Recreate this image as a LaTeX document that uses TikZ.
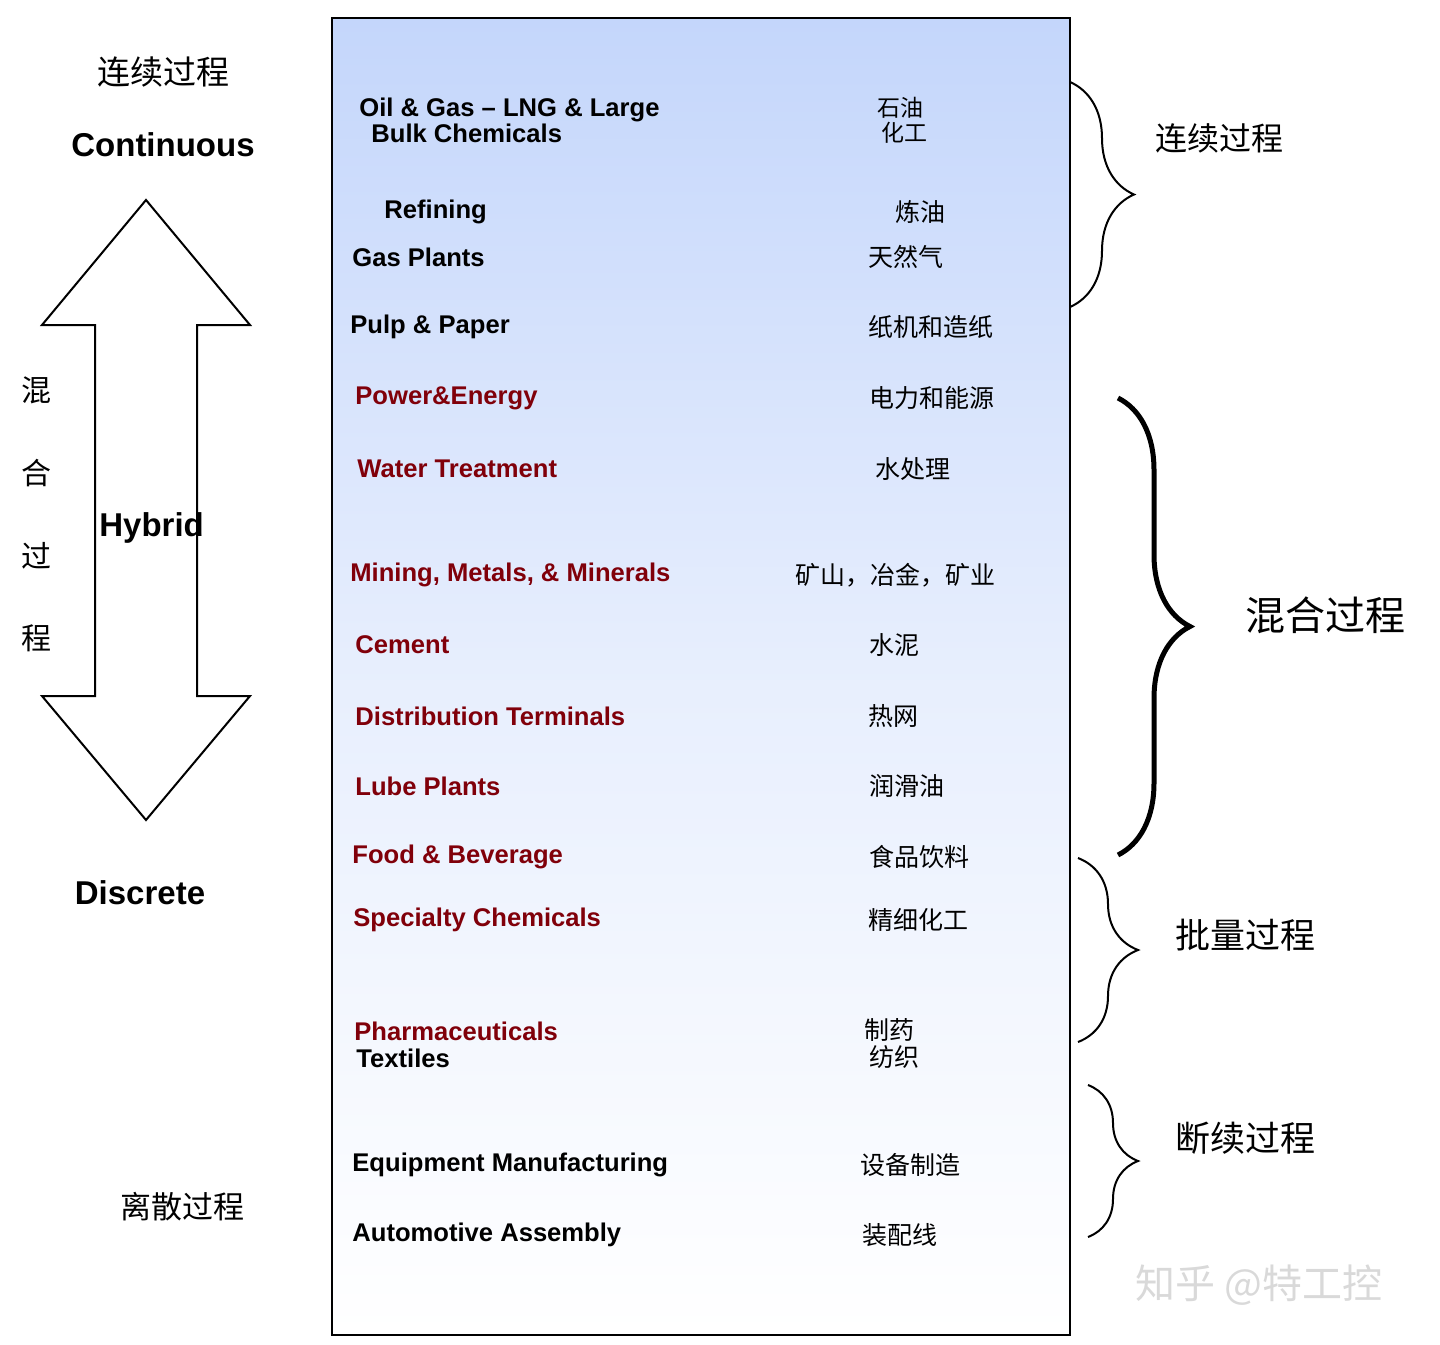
\documentclass[tikz,border=0pt]{standalone}
\usepackage{fontspec}
\setmainfont{Liberation Sans}
\newfontfamily\cjk{Noto Sans CJK SC}
\usetikzlibrary{decorations.pathreplacing}
\definecolor{dred}{RGB}{128,0,10}
\definecolor{topblue}{RGB}{196,214,251}
\tikzset{en/.style={anchor=west,font=\fontsize{12.8}{13}\selectfont\bfseries,inner sep=0pt},
 red/.style={en,text=dred},
 zh/.style={anchor=west,font=\cjk\fontsize{12.5}{13}\selectfont,inner sep=0pt},
 br/.style={decorate,decoration={brace,amplitude=14pt},line width=1pt}}
\begin{document}
\begin{tikzpicture}[x=0.5pt,y=-0.5pt]
\useasboundingbox (0,0) rectangle (1440,1344);
\shade[top color=topblue,bottom color=white,middle color=white!60!topblue] (332,18) rectangle (1070,1335);
\draw[line width=1.2pt] (332,18) rectangle (1070,1335);
\draw[line width=1pt] (146,200)--(250,325)--(197,325)--(197,696)--(250,696)--(146,820)--(42,696)--(95,696)--(95,325)--(42,325)--cycle;
\node (t1) at (163,72) {\cjk\itshape\fontsize{16.5}{18}\selectfont 连续过程};
\node (t2) at (163,145) {\bfseries\fontsize{16.5}{18}\selectfont Continuous};
\node[anchor=west,inner sep=0pt] (t3) at (99,528) {\bfseries\fontsize{16.5}{18}\selectfont Hybrid};
\node (t4) at (140,893) {\bfseries\fontsize{16.5}{18}\selectfont Discrete};
\node (t5) at (182,1207) {\cjk\fontsize{15.5}{18}\selectfont 离散过程};
\foreach \c/\y in {混/390,合/473,过/556,程/638} \node at (36,\y) {\cjk\fontsize{15}{18}\selectfont \c};
\node[en] (a1) at (359,110) {Oil \& Gas – LNG \& Large};
\node[en] (a2) at (371,133) {Bulk Chemicals};
\node[en] (a3) at (384,212) {Refining};
\node[en] (a4) at (352,257) {Gas Plants};
\node[en] (a5) at (350,327) {Pulp \& Paper};
\node[red] (a6) at (355,398) {Power\&Energy};
\node[red] (a7) at (357,469) {Water Treatment};
\node[red] (a8) at (350,575) {Mining, Metals, \& Minerals};
\node[red] (a9) at (355,645) {Cement};
\node[red] (a10) at (355,716) {Distribution Terminals};
\node[red] (a11) at (355,786) {Lube Plants};
\node[red] (a12) at (352,857) {Food \& Beverage};
\node[red] (a13) at (353,920) {Specialty Chemicals};
\node[red] (a14) at (354,1031) {Pharmaceuticals};
\node[en] (a15) at (356,1058) {Textiles};
\node[en] (a16) at (352,1165) {Equipment Manufacturing};
\node[en] (a17) at (352,1235) {Automotive Assembly};
\node[zh,font=\cjk\fontsize{11.5}{12}\selectfont] (b1) at (877,108) {石油};
\node[zh,font=\cjk\fontsize{11.5}{12}\selectfont] (b2) at (881,133) {化工};
\node[zh] (b3) at (895,212) {炼油};
\node[zh] (b4) at (868,257) {天然气};
\node[zh] (b5) at (868,327) {纸机和造纸};
\node[zh] (b6) at (869,398) {电力和能源};
\node[zh] (b7) at (875,469) {水处理};
\node[zh] (b8) at (795,575) {矿山，冶金，矿业};
\node[zh] (b9) at (869,645) {水泥};
\node[zh] (b10) at (868,716) {热网};
\node[zh] (b11) at (869,786) {润滑油};
\node[zh] (b12) at (869,857) {食品饮料};
\node[zh] (b13) at (868,920) {精细化工};
\node[zh] (b14) at (864,1030) {制药};
\node[zh] (b15) at (869,1057) {纺织};
\node[zh] (b16) at (860,1165) {设备制造};
\node[zh] (b17) at (862,1235) {装配线};
\coordinate (c1) at (1070,82); \coordinate (c2) at (1070,307);
\coordinate (c3) at (1118,398); \coordinate (c4) at (1118,855);
\coordinate (c5) at (1078,858); \coordinate (c6) at (1078,1042);
\coordinate (c7) at (1088,1085); \coordinate (c8) at (1088,1237);
\draw[br,decoration={amplitude=32pt}] (c1)--(c2);
\draw[br,line width=2.5pt,decoration={amplitude=36pt}] (c3)--(c4);
\draw[br,decoration={amplitude=30pt}] (c5)--(c6);
\draw[br,decoration={amplitude=25pt}] (c7)--(c8);
\node[zh,font=\cjk\fontsize{16}{18}\selectfont] (d1) at (1155,138) {连续过程};
\node[zh,font=\cjk\fontsize{20}{22}\selectfont] (d2) at (1245,615) {混合过程};
\node[zh,font=\cjk\fontsize{17.5}{18}\selectfont] (d3) at (1175,935) {批量过程};
\node[zh,font=\cjk\fontsize{17.5}{18}\selectfont] (d4) at (1175,1138) {断续过程};
\node[zh,font=\cjk\fontsize{20}{22}\selectfont,text=black!15] (w) at (1135,1285) {知乎 @特工控};
\end{tikzpicture}
\end{document}
